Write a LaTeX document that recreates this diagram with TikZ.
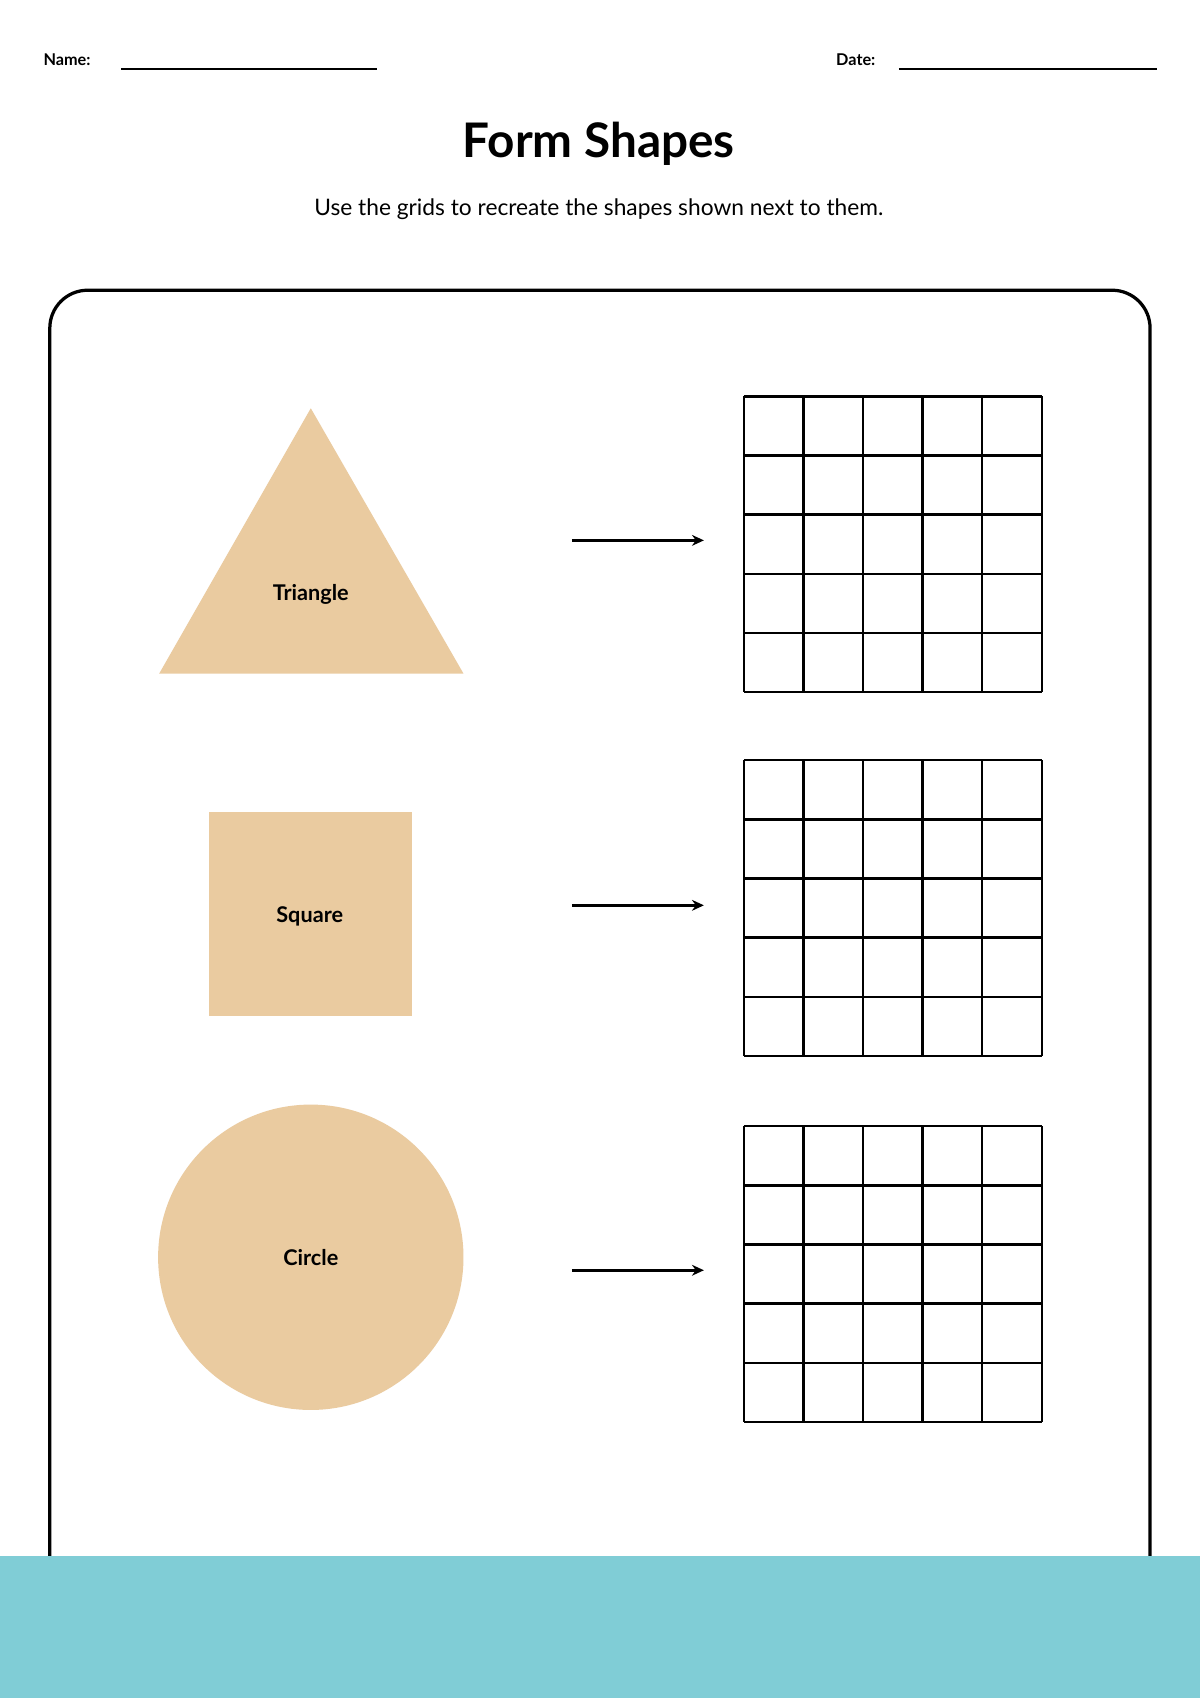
\documentclass[tikz,border=0pt]{standalone}
\usepackage{fontspec}
\setmainfont{Lato}
\usetikzlibrary{arrows.meta}
\definecolor{shapefill}{HTML}{EACBA0}
\definecolor{band}{HTML}{80CDD6}
\tikzset{
  lbl/.style={font=\fontsize{20}{24}\selectfont\bfseries},
  arr/.style={line width=3pt,-{Stealth[length=11pt,width=10pt]}},
  gridline/.style={line width=2.2pt}
}
\begin{document}
\begin{tikzpicture}[x=1pt,y=-1pt]
\useasboundingbox (0,0) rectangle (1108,1568);
\fill[white] (0,0) rectangle (1108,1568);
% header
\node[anchor=west,font=\fontsize{15}{18}\selectfont\bfseries,inner sep=0] (name) at (40,55) {Name:};
\coordinate (n1) at (112,64); \coordinate (n2) at (348,64);
\draw[line width=1.8pt] (n1) -- (n2);
\node[anchor=west,font=\fontsize{15}{18}\selectfont\bfseries,inner sep=0] (date) at (772,55) {Date:};
\coordinate (d1) at (830,64); \coordinate (d2) at (1068,64);
\draw[line width=1.8pt] (d1) -- (d2);
\node[font=\fontsize{44}{50}\selectfont\bfseries] (title) at (553,133) {Form Shapes};
\node[font=\fontsize{21}{25}\selectfont] (sub) at (553,193) {Use the grids to recreate the shapes shown next to them.};
% frame
\draw[line width=3pt,rounded corners=35pt] (46,1500) -- (46,268) -- (1062,268) -- (1062,1500);
\fill[band] (0,1437) rectangle (1108,1568);
% shapes
\fill[shapefill] (287,377) -- (428,622) -- (147,622) -- cycle;
\node[lbl] (tri) at (287,549) {Triangle};
\fill[shapefill] (193,750) rectangle (380,938);
\node[lbl] (sq) at (286,846) {Square};
\fill[shapefill] (287,1161) circle (141);
\node[lbl] (ci) at (287,1161) {Circle};
% arrows
\foreach \yy/\nm in {499/a,836/b,1173/c}{
  \coordinate (\nm s) at (528,\yy); \coordinate (\nm e) at (650,\yy);
  \draw[arr] (\nm s) -- (\nm e);
}
% grids
\foreach \tp in {366,702,1040}{
  \foreach \ii in {0,...,5}{
    \draw[gridline] (687+\ii*55,\tp) -- (687+\ii*55,\tp+273);
    \draw[gridline] (687,\tp+\ii*54.6) -- (962,\tp+\ii*54.6);
  }
}
\end{tikzpicture}
\end{document}
